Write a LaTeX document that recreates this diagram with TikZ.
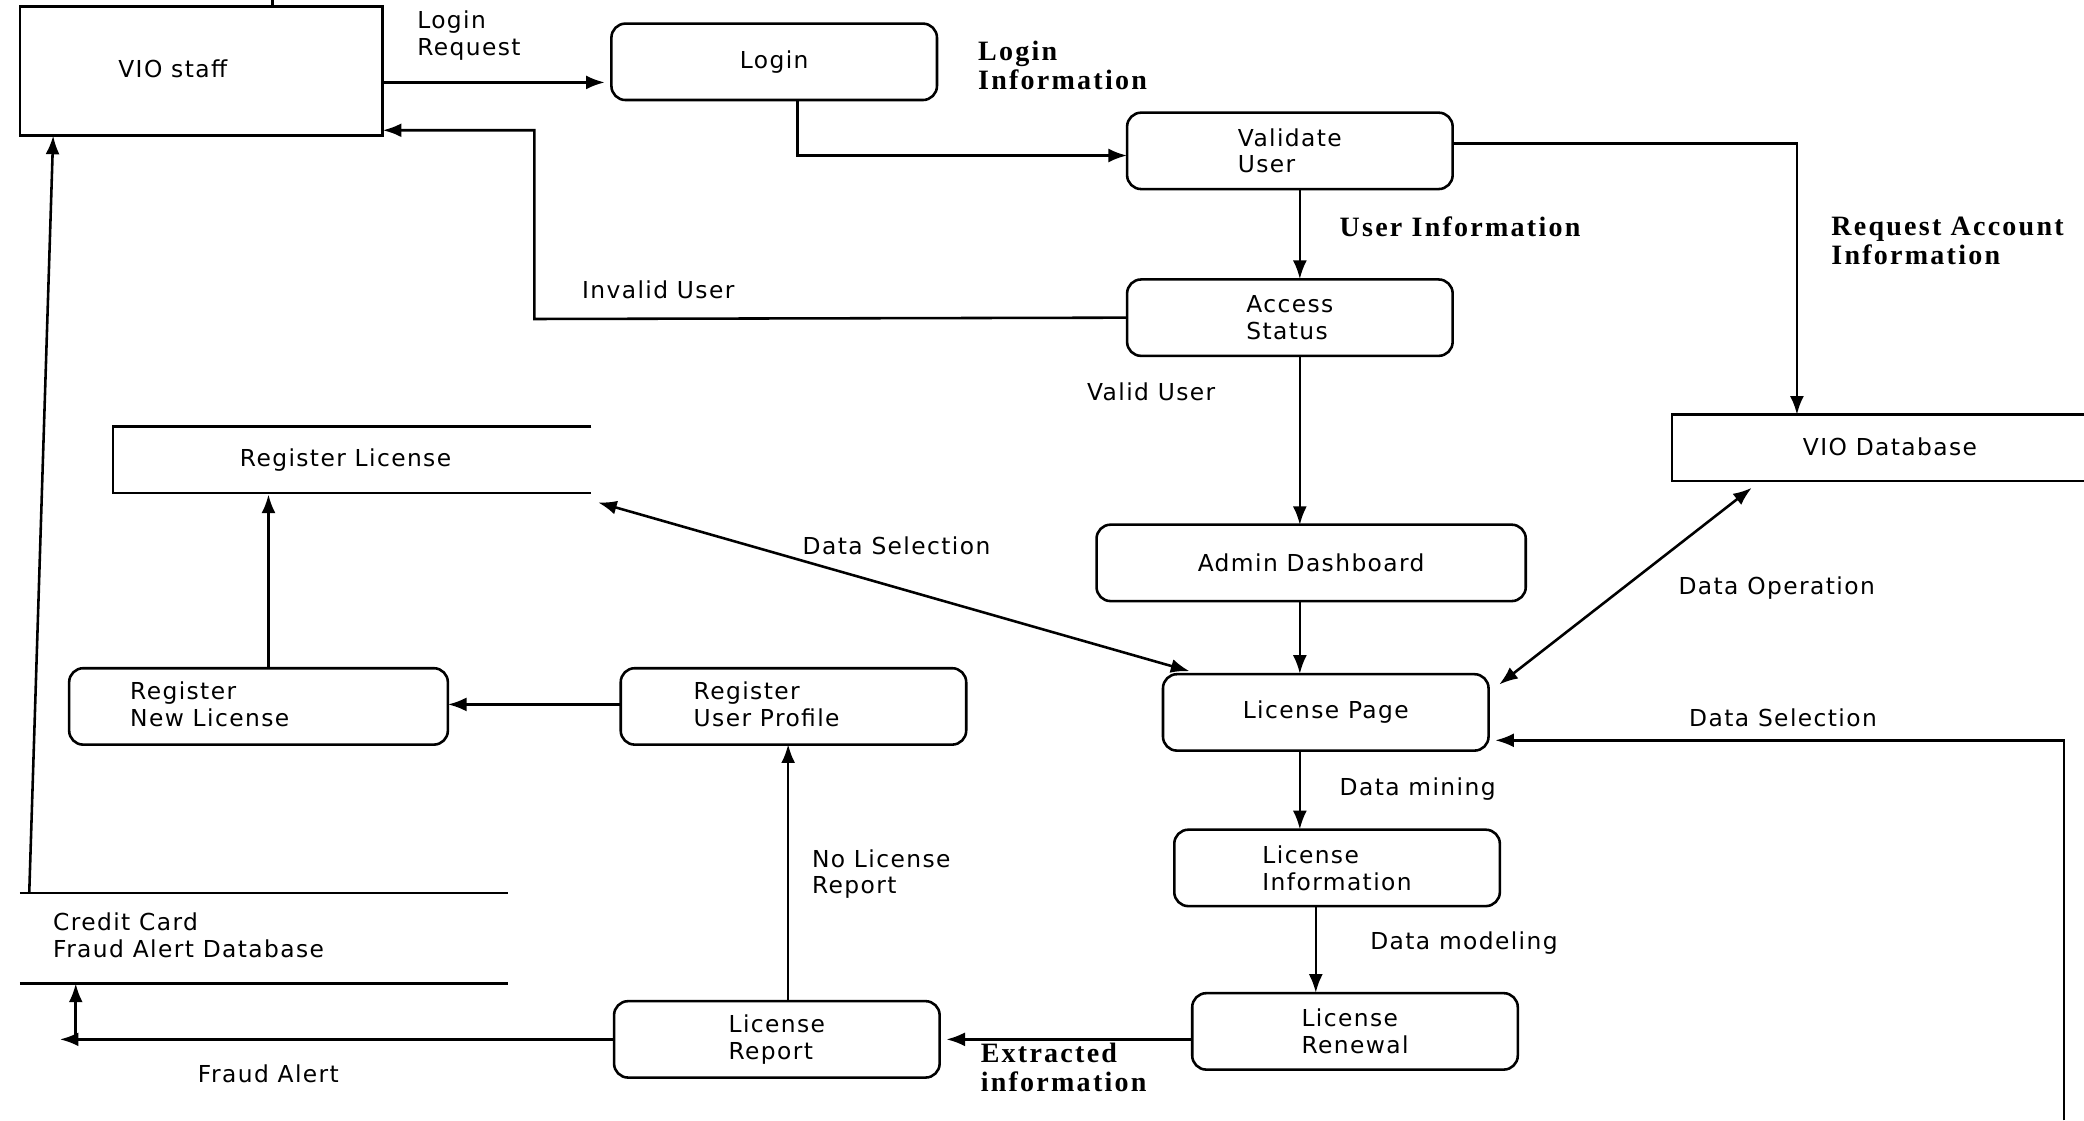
\documentclass[tikz,border=0pt]{standalone}
\usepackage{fontspec}
\setmainfont{DejaVu Sans}[LetterSpace=6]
\newfontfamily\serifb{Liberation Serif}[LetterSpace=8]
\usetikzlibrary{arrows.meta}
\begin{document}
\begin{tikzpicture}[x=0.02cm,y=-0.02cm,line width=1.1pt,
  font=\fontsize{10}{11.5}\selectfont,
  box/.style={draw,rounded corners=6pt,minimum height=1.15cm,align=left},
  ar/.style={-{Latex[length=8pt,width=6pt]}},
  lb/.style={anchor=north west,align=left,inner sep=0pt},
  sb/.style={lb,font=\serifb\bfseries\fontsize{12}{12.5}\selectfont}]
\path[use as bounding box,clip] (0,0) rectangle (1568,843);
\fill[white] (0,0) rectangle (1568,843);
% nodes
\node[draw,minimum width=5.46cm,minimum height=1.94cm] (staff) at (151.5,53.5) {};
\node at (130,52) {VIO staff};
\node[box,minimum width=4.9cm] (login) at (582.5,46.5) {Login};
\node[box,minimum width=4.9cm] (val) at (970.5,113.5) {Validate\\User};
\node[box,minimum width=4.9cm] (acc) at (970.5,239) {Access\\Status};
\node[box,minimum width=6.46cm] (adm) at (986.5,423.5) {Admin Dashboard};
\node[box,minimum width=4.9cm] (lp) at (997.5,536) {License Page};
\node[box,minimum width=5.7cm] (rnl) at (194.5,531.5) {};
\node[lb] at (97,512) {Register\\New License};
\node[box,minimum width=5.2cm] (rup) at (597,531.5) {};
\node[lb] at (521,512) {Register\\User Profile};
\node[box,minimum width=4.9cm] (li) at (1006,653) {License\\Information};
\node[box,minimum width=4.9cm] (lr) at (1019.5,776) {License\\Renewal};
\node[box,minimum width=4.9cm] (rep) at (584.5,782) {License\\Report};
% open stores
\draw (1568,312) -- (1258,312) -- (1258,362) -- (1568,362);
\node (db) at (1422,336) {VIO Database};
\draw (445,321) -- (85,321) -- (85,371) -- (445,371);
\node (reg) at (260,346) {Register License};
\draw (15,672) -- (382,672) (15,740) -- (382,740);
\node[lb] (fraud) at (39,686) {Credit Card\\Fraud Alert Database};
\draw (205,0) -- (205,5);
% edges
\coordinate (v1) at (848,117);
\draw[ar] (288,62) -- (455,62);
\node[lb] at (313,7) {Login\\Request};
\draw[ar] (600,75) -- (600,117) -- (v1);
\node[sb] at (735,30) {Login\\Information};
\draw[ar] (978,142) -- (978,210);
\node[sb] at (1007,162) {User Information};
\draw[ar] (1093,108) -- (1352,108) -- (1352,312);
\node[sb] at (1377,162) {Request Account\\Information};
\draw[ar] (acc.west) -- (402,240) -- (402,98) -- (288,98);
\node[lb] at (437,210) {Invalid User};
\draw[ar] (978,268) -- (978,395);
\node[lb] at (817,287) {Valid User};
\draw[ar] (978,452) -- (978,507);
\draw[{Latex[length=8pt,width=6pt]}-{Latex[length=8pt,width=6pt]}] (450,378) -- (895,505);
\node[lb] at (603,403) {Data Selection};
\draw[{Latex[length=8pt,width=6pt]}-{Latex[length=8pt,width=6pt]}] (1128,515) -- (1318,367);
\node[lb] at (1262,433) {Data Operation};
\draw[ar] (1553,843) -- (1553,557) -- (1125,557);
\node[lb] at (1270,532) {Data Selection};
\draw[ar] (978,565) -- (978,624);
\node[lb] at (1007,584) {Data mining};
\draw[ar] (990,682) -- (990,747);
\node[lb] at (1030,700) {Data modeling};
\draw[ar] (897,782) -- (712,782);
\node[sb] at (737,784) {Extracted\\information};
\draw[ar] (593,753) -- (593,560);
\node[lb] at (610,638) {No License\\Report};
\draw[ar] (467,530) -- (337,530);
\draw[ar] (202,503) -- (202,372);
\draw[ar] (462,782) -- (45,782);
\draw[ar] (57,782) -- (57,740);
\node[lb] at (148,800) {Fraud Alert};
\draw[ar] (22,672) -- (40,102);
\end{tikzpicture}
\end{document}
